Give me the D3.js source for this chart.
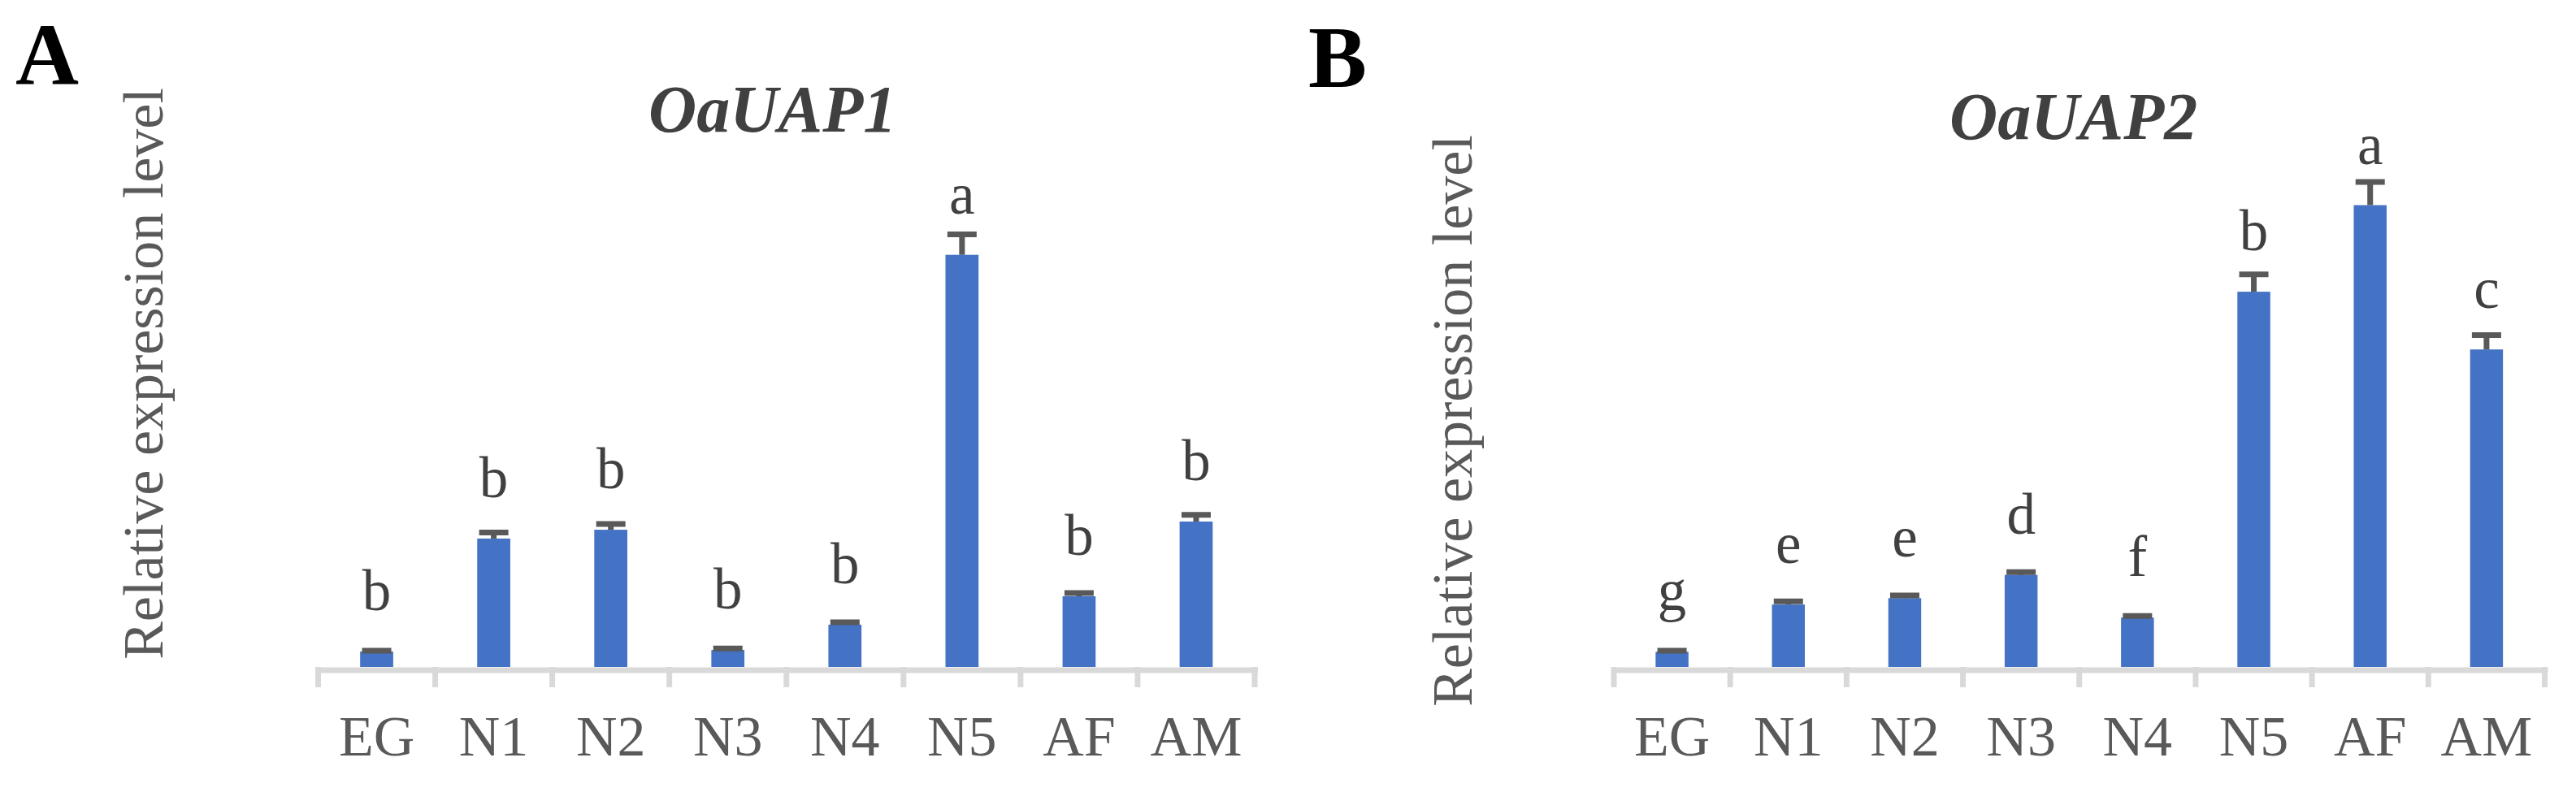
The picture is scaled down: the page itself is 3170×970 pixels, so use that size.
<!DOCTYPE html>
<html>
<head>
<meta charset="utf-8">
<script src="https://cdn.jsdelivr.net/npm/d3@7"></script>
<style>
  body { margin: 0; background: #fff; }
  svg { display: block; }
</style>
</head>
<body>
<div id="chart"></div>
<script>
// Developmental stages (x categories)
var categories = ["EG", "N1", "N2", "N3", "N4", "N5", "AF", "AM"];

// OaUAP1 relative expression (EG = 1), error and significance letters
var uap1Values = [1.0, 8.32, 8.89, 1.1, 2.74, 26.7, 4.58, 9.42];
var uap1Errors = [0.05, 0.39, 0.37, 0.1, 0.16, 1.32, 0.21, 0.44];
var uap1Letters = ["b", "b", "b", "b", "b", "a", "b", "b"];

// OaUAP2 relative expression (EG = 1), error and significance letters
var uap2Values = [1.0, 4.11, 4.53, 6.06, 3.25, 24.7, 30.4, 20.9];
var uap2Errors = [0.07, 0.21, 0.18, 0.18, 0.11, 1.14, 1.53, 0.94];
var uap2Letters = ["g", "e", "e", "d", "f", "b", "a", "c"];

var serif = "'Times New Roman', 'Liberation Serif', serif";

var svg = d3.select("#chart").append("svg")
    .attr("width", 3170)
    .attr("height", 970);

svg.append("rect")
    .attr("width", 3170)
    .attr("height", 970)
    .attr("fill", "#ffffff");

function drawPanel(p) {
    var data = categories.map(function(c, i) {
        return {cat: c, value: p.values[i], err: p.errors[i], letter: p.letters[i]};
    });

    var baseY = 821;

    var x = d3.scaleBand()
        .domain(categories)
        .range([p.left, p.right])
        .paddingInner(0)
        .paddingOuter(0);

    var y = d3.scaleLinear()
        .domain([0, p.yMax])
        .range([baseY, p.top]);

    var barW = x.bandwidth() * 0.2825;
    var g = svg.append("g");

    // panel letter
    g.append("text")
        .attr("x", p.tagX)
        .attr("y", p.tagY)
        .style("font-family", serif)
        .style("font-weight", "bold")
        .style("font-size", "108px")
        .style("fill", "#000")
        .text(p.tag);

    // gene title
    g.append("text")
        .attr("x", p.titleX)
        .attr("y", p.titleY)
        .style("font-family", serif)
        .style("font-weight", "bold")
        .style("font-style", "italic")
        .style("font-size", "82px")
        .style("fill", "#404040")
        .text(p.title);

    // y axis title
    g.append("text")
        .attr("transform", "translate(" + p.yLabelX + "," + p.yLabelY + ") rotate(-90)")
        .style("text-anchor", "middle")
        .style("font-family", serif)
        .style("font-size", "70px")
        .style("fill", "#595959")
        .text("Relative expression level");

    // bars
    g.selectAll(".bar")
        .data(data)
      .enter().append("rect")
        .attr("class", "bar")
        .attr("x", function(d) { return x(d.cat) + (x.bandwidth() - barW) / 2; })
        .attr("y", function(d) { return y(d.value); })
        .attr("width", barW)
        .attr("height", function(d) { return baseY - y(d.value); })
        .attr("fill", "#4472c4");

    // error bars (plus direction)
    var eb = g.selectAll(".err")
        .data(data)
      .enter().append("g")
        .attr("class", "err")
        .attr("transform", function(d) { return "translate(" + (x(d.cat) + x.bandwidth() / 2) + ",0)"; });

    eb.append("line")
        .attr("x1", 0).attr("x2", 0)
        .attr("y1", function(d) { return y(d.value); })
        .attr("y2", function(d) { return y(d.value + d.err); })
        .attr("stroke", "#595959")
        .attr("stroke-width", 7);

    eb.append("line")
        .attr("x1", -18).attr("x2", 18)
        .attr("y1", function(d) { return y(d.value + d.err); })
        .attr("y2", function(d) { return y(d.value + d.err); })
        .attr("stroke", "#595959")
        .attr("stroke-width", 7);

    // significance letters
    g.selectAll(".sig")
        .data(data)
      .enter().append("text")
        .attr("class", "sig")
        .attr("x", function(d) { return x(d.cat) + x.bandwidth() / 2; })
        .attr("y", function(d) { return y(d.value) - 51; })
        .style("text-anchor", "middle")
        .style("font-family", serif)
        .style("font-size", "71px")
        .style("fill", "#404040")
        .text(function(d) { return d.letter; });

    // x axis
    var axis = g.append("g")
        .attr("transform", "translate(0," + (baseY + 3.5) + ")")
        .call(d3.axisBottom(x).tickSize(0).tickSizeOuter(0).tickPadding(55.5));

    axis.select(".domain")
        .attr("stroke", "#d9d9d9")
        .attr("stroke-width", 7)
        .attr("stroke-linecap", "square");

    axis.selectAll(".tick text")
        .style("font-family", serif)
        .style("font-size", "70px")
        .style("fill", "#595959");

    var bounds = d3.range(categories.length + 1).map(function(i) { return p.left + i * x.step(); });
    axis.selectAll(".bound")
        .data(bounds)
      .enter().append("line")
        .attr("class", "bound")
        .attr("x1", function(d) { return d; })
        .attr("x2", function(d) { return d; })
        .attr("y1", -3.5)
        .attr("y2", 21.5)
        .attr("stroke", "#d9d9d9")
        .attr("stroke-width", 7);
}

drawPanel({
    tag: "A", tagX: 19, tagY: 104,
    title: "OaUAP1", titleX: 798, titleY: 162,
    yLabelX: 200, yLabelY: 460,
    left: 391.5, right: 1544, top: 251, yMax: 30,
    values: uap1Values, errors: uap1Errors, letters: uap1Letters
});

drawPanel({
    tag: "B", tagX: 1610, tagY: 107,
    title: "OaUAP2", titleX: 2399, titleY: 171,
    yLabelX: 1811, yLabelY: 518,
    left: 1986, right: 3131.5, top: 222.6, yMax: 32,
    values: uap2Values, errors: uap2Errors, letters: uap2Letters
});
</script>
</body>
</html>
